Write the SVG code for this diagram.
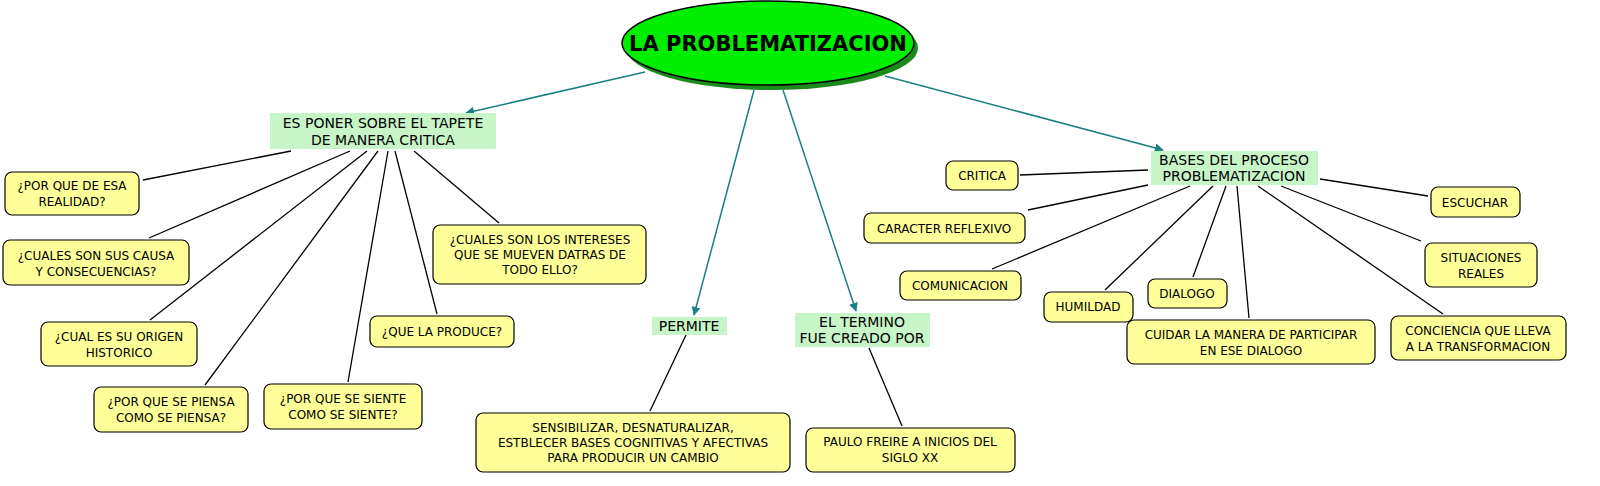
<svg xmlns="http://www.w3.org/2000/svg" width="1600" height="486" viewBox="0 0 1600 486">
<defs>
<style>
text{font-family:"DejaVu Sans",Verdana,sans-serif;fill:#000;text-anchor:middle}
.b rect{fill:#ffff99;stroke:#000;stroke-width:1.2}
.b text{font-size:12px}
.l rect{fill:#c8f5c8}
.l text{font-size:14px}
.c line{stroke:#000;stroke-width:1.3}
.c .a{stroke:#1a8080;stroke-width:1.5;marker-end:url(#ar)}
</style>
<marker id="ar" viewBox="0 0 10 10" refX="9" refY="5" markerWidth="9" markerHeight="9" orient="auto" markerUnits="userSpaceOnUse"><path d="M0,0L10,5L0,10z" fill="#1a8080"/></marker>
</defs>
<rect width="1600" height="486" fill="#fff"/>
<g class="c">
<line class="a" x1="645" y1="72" x2="466" y2="113"/>
<line class="a" x1="754" y1="90" x2="694" y2="315"/>
<line class="a" x1="783" y1="90" x2="856" y2="311"/>
<line class="a" x1="885" y1="76" x2="1163" y2="150"/>
<line x1="291" y1="151" x2="143" y2="180"/>
<line x1="350" y1="151" x2="149" y2="238"/>
<line x1="367" y1="151" x2="150" y2="320"/>
<line x1="378" y1="151" x2="205" y2="385"/>
<line x1="388" y1="151" x2="348" y2="382"/>
<line x1="395" y1="151" x2="437" y2="314"/>
<line x1="414" y1="151" x2="499" y2="223"/>
<line x1="686" y1="335" x2="650" y2="411"/>
<line x1="869" y1="348" x2="902" y2="426"/>
<line x1="1148" y1="170" x2="1020" y2="175"/>
<line x1="1148" y1="185" x2="1028" y2="210"/>
<line x1="1190" y1="186" x2="992" y2="269"/>
<line x1="1213" y1="186" x2="1105" y2="290"/>
<line x1="1226" y1="186" x2="1193" y2="277"/>
<line x1="1237" y1="186" x2="1249" y2="318"/>
<line x1="1258" y1="186" x2="1443" y2="314"/>
<line x1="1281" y1="186" x2="1421" y2="241"/>
<line x1="1320" y1="179" x2="1428" y2="196"/>
</g>
<g id="root">
<ellipse cx="772" cy="48" rx="146" ry="42" fill="#1a8a1a"/>
<ellipse cx="768" cy="43" rx="146" ry="42" fill="#00ee00" stroke="#000" stroke-width="1.5"/>
<text x="768" y="51" style="font-size:21px;font-weight:bold">LA PROBLEMATIZACION</text>
</g>
<g id="l1" class="l"><rect x="270" y="113" width="226" height="36"/><text x="383" y="128">ES PONER SOBRE EL TAPETE</text><text x="383" y="145">DE MANERA CRITICA</text></g>
<g id="l2" class="l"><rect x="652" y="317" width="75" height="18"/><text x="689" y="331">PERMITE</text></g>
<g id="l3" class="l"><rect x="795" y="313" width="135" height="34"/><text x="862" y="327">EL TERMINO</text><text x="862" y="343">FUE CREADO POR</text></g>
<g id="l4" class="l"><rect x="1151" y="151" width="167" height="34"/><text x="1234" y="165">BASES DEL PROCESO</text><text x="1234" y="181">PROBLEMATIZACION</text></g>
<g id="n1" class="b"><rect x="5" y="172" width="134" height="43" rx="7"/><text x="72" y="190">¿POR QUE DE ESA</text><text x="72" y="206">REALIDAD?</text></g>
<g id="n2" class="b"><rect x="3" y="240" width="186" height="45" rx="7"/><text x="96" y="260">¿CUALES SON SUS CAUSA</text><text x="96" y="276">Y CONSECUENCIAS?</text></g>
<g id="n3" class="b"><rect x="41" y="322" width="156" height="44" rx="7"/><text x="119" y="341">¿CUAL ES SU ORIGEN</text><text x="119" y="357">HISTORICO</text></g>
<g id="n4" class="b"><rect x="94" y="387" width="154" height="45" rx="7"/><text x="171" y="406">¿POR QUE SE PIENSA</text><text x="171" y="422">COMO SE PIENSA?</text></g>
<g id="n5" class="b"><rect x="264" y="384" width="158" height="45" rx="7"/><text x="343" y="403">¿POR QUE SE SIENTE</text><text x="343" y="419">COMO SE SIENTE?</text></g>
<g id="n6" class="b"><rect x="370" y="316" width="144" height="31" rx="7"/><text x="442" y="336">¿QUE LA PRODUCE?</text></g>
<g id="n7" class="b"><rect x="433" y="225" width="213" height="59" rx="7"/><text x="540" y="244">¿CUALES SON LOS INTERESES</text><text x="540" y="259">QUE SE MUEVEN DATRAS DE</text><text x="540" y="274">TODO ELLO?</text></g>
<g id="n8" class="b"><rect x="476" y="413" width="314" height="59" rx="7"/><text x="633" y="432">SENSIBILIZAR, DESNATURALIZAR,</text><text x="633" y="447">ESTBLECER BASES COGNITIVAS Y AFECTIVAS</text><text x="633" y="462">PARA PRODUCIR UN CAMBIO</text></g>
<g id="n9" class="b"><rect x="806" y="428" width="209" height="44" rx="7"/><text x="910" y="446">PAULO FREIRE A INICIOS DEL</text><text x="910" y="462">SIGLO XX</text></g>
<g id="n10" class="b"><rect x="946" y="161" width="72" height="29" rx="7"/><text x="982" y="180">CRITICA</text></g>
<g id="n11" class="b"><rect x="864" y="213" width="161" height="30" rx="7"/><text x="944" y="233">CARACTER REFLEXIVO</text></g>
<g id="n12" class="b"><rect x="900" y="271" width="121" height="29" rx="7"/><text x="960" y="290">COMUNICACION</text></g>
<g id="n13" class="b"><rect x="1044" y="292" width="89" height="30" rx="7"/><text x="1088" y="311">HUMILDAD</text></g>
<g id="n14" class="b"><rect x="1148" y="279" width="79" height="29" rx="7"/><text x="1187" y="298">DIALOGO</text></g>
<g id="n15" class="b"><rect x="1127" y="320" width="248" height="44" rx="7"/><text x="1251" y="339">CUIDAR LA MANERA DE PARTICIPAR</text><text x="1251" y="355">EN ESE DIALOGO</text></g>
<g id="n16" class="b"><rect x="1391" y="316" width="175" height="44" rx="7"/><text x="1478" y="335">CONCIENCIA QUE LLEVA</text><text x="1478" y="351">A LA TRANSFORMACION</text></g>
<g id="n17" class="b"><rect x="1425" y="243" width="112" height="44" rx="7"/><text x="1481" y="262">SITUACIONES</text><text x="1481" y="278">REALES</text></g>
<g id="n18" class="b"><rect x="1431" y="187" width="89" height="30" rx="7"/><text x="1475" y="207">ESCUCHAR</text></g>
</svg>
